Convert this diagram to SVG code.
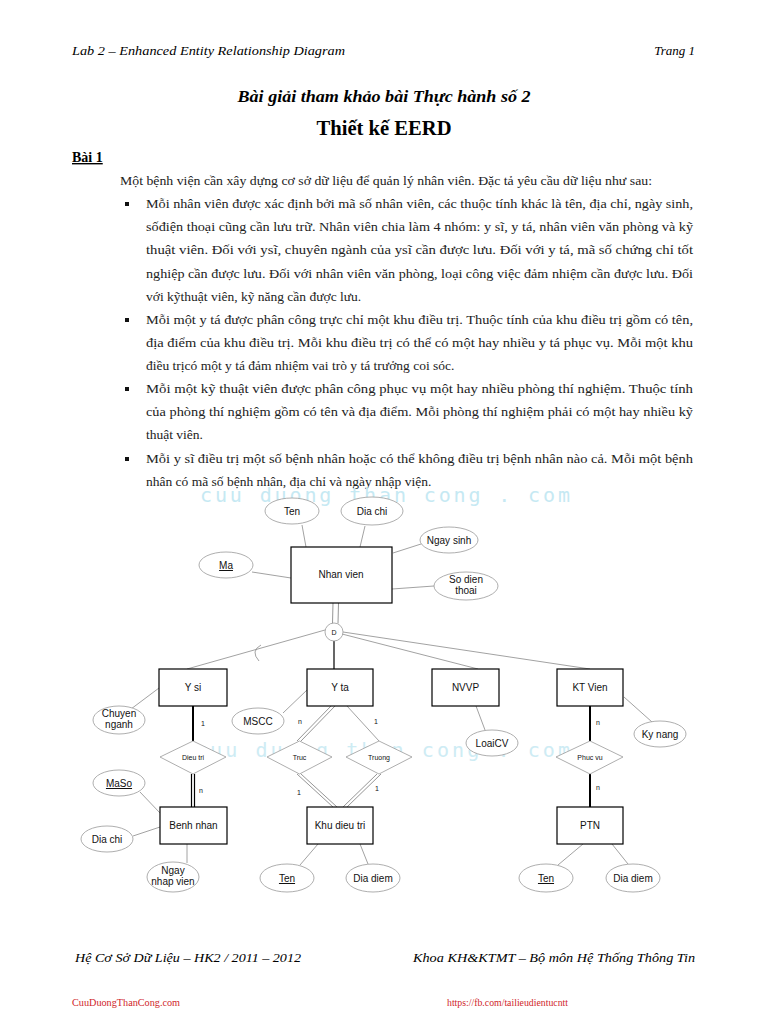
<svg xmlns="http://www.w3.org/2000/svg" width="768" height="1024" viewBox="0 0 768 1024">
<style>
.hdr{font-family:"Liberation Serif",serif;font-style:italic;font-size:13px;fill:#000}
.body{font-family:"Liberation Serif",serif;font-size:13.5px;fill:#222}
.wm{font-family:"DejaVu Sans Mono",monospace;font-size:20px;fill:#c6e9f3}
.ent{fill:#fff;stroke:#000;stroke-width:1.2}
.attr{fill:#fff;stroke:#999;stroke-width:0.8}
.rel{fill:#fff;stroke:#999;stroke-width:0.8}
.ln{stroke:#8a8a8a;stroke-width:0.8;fill:none}
.dbl{stroke:#8a8a8a;stroke-width:0.9;fill:none}
.thick{stroke:#000;stroke-width:2;fill:none}
.blk{stroke:#000;stroke-width:1.2;fill:none}
.t{font-family:"Liberation Sans",Arial,sans-serif;font-size:10px;text-anchor:middle;fill:#111}
.ts{font-family:"Liberation Sans",Arial,sans-serif;font-size:7px;text-anchor:middle;fill:#111}
.u{text-decoration:underline}
.bul{fill:#111}
</style>
<rect width="768" height="1024" fill="#fff"/>

<!-- header -->
<text class="hdr" x="72" y="55" textLength="273" lengthAdjust="spacingAndGlyphs">Lab 2 – Enhanced Entity Relationship Diagram</text>
<text class="hdr" x="695" y="55" text-anchor="end">Trang 1</text>
<text x="384" y="102" text-anchor="middle" font-family="Liberation Serif,serif" font-weight="bold" font-style="italic" font-size="16" textLength="293" lengthAdjust="spacingAndGlyphs">Bài giải tham khảo bài Thực hành số 2</text>
<text x="384" y="135" text-anchor="middle" font-family="Liberation Serif,serif" font-weight="bold" font-size="20" textLength="135" lengthAdjust="spacingAndGlyphs">Thiết kế EERD</text>
<text x="72" y="162" font-family="Liberation Serif,serif" font-weight="bold" font-size="14" text-decoration="underline">Bài 1</text>

<!-- body text -->
<g class="body">
<text x="120" y="185" textLength="532" lengthAdjust="spacingAndGlyphs">Một bệnh viện cần xây dựng cơ sở dữ liệu để quản lý nhân viên. Đặc tả yêu cầu dữ liệu như sau:</text>
<rect class="bul" x="125" y="202" width="4" height="4"/>
<text x="146" y="208" textLength="547" lengthAdjust="spacingAndGlyphs">Mỗi nhân viên được xác định bởi mã số nhân viên, các thuộc tính khác là tên, địa chỉ, ngày sinh,</text>
<text x="146" y="231" textLength="547" lengthAdjust="spacingAndGlyphs">sốđiện thoại cũng cần lưu trữ. Nhân viên chia làm 4 nhóm: y sĩ, y tá, nhân viên văn phòng và kỹ</text>
<text x="146" y="254" textLength="547" lengthAdjust="spacingAndGlyphs">thuật viên. Đối với ysĩ, chuyên ngành của ysĩ cần được lưu. Đối với y tá, mã số chứng chỉ tốt</text>
<text x="146" y="278" textLength="547" lengthAdjust="spacingAndGlyphs">nghiệp cần được lưu. Đối với nhân viên văn phòng, loại công việc đảm nhiệm cần được lưu. Đối</text>
<text x="146" y="301">với kỹthuật viên, kỹ năng cần được lưu.</text>
<rect class="bul" x="125" y="318" width="4" height="4"/>
<text x="146" y="324" textLength="547" lengthAdjust="spacingAndGlyphs">Mỗi một y tá được phân công trực chỉ một khu điều trị. Thuộc tính của khu điều trị gồm có tên,</text>
<text x="146" y="347" textLength="547" lengthAdjust="spacingAndGlyphs">địa điểm của khu điều trị. Mỗi khu điều trị có thể có một hay nhiều y tá phục vụ. Mỗi một khu</text>
<text x="146" y="370">điều trịcó một y tá đảm nhiệm vai trò y tá trưởng coi sóc.</text>
<rect class="bul" x="125" y="387" width="4" height="4"/>
<text x="146" y="393" textLength="547" lengthAdjust="spacingAndGlyphs">Mỗi một kỹ thuật viên được phân công phục vụ một hay nhiều phòng thí nghiệm. Thuộc tính</text>
<text x="146" y="416" textLength="547" lengthAdjust="spacingAndGlyphs">của phòng thí nghiệm gồm có tên và địa điểm. Mỗi phòng thí nghiệm phải có một hay nhiều kỹ</text>
<text x="146" y="439">thuật viên.</text>
<rect class="bul" x="125" y="457" width="4" height="4"/>
<text x="146" y="463" textLength="547" lengthAdjust="spacingAndGlyphs">Mỗi y sĩ điều trị một số bệnh nhân hoặc có thể không điều trị bệnh nhân nào cả. Mỗi một bệnh</text>
<text x="146" y="486">nhân có mã số bệnh nhân, địa chỉ và ngày nhập viện.</text>
</g>

<!-- watermarks (behind diagram) -->
<text class="wm" x="200" y="502" textLength="370" lengthAdjust="spacing">cuu duong than cong . com</text>
<text class="wm" x="195" y="757" textLength="375" lengthAdjust="spacing" opacity="0.85">cuu duong than cong . com</text>

<!-- connectors -->
<g id="connectors">
<line class="ln" x1="302" y1="525" x2="306" y2="547"/>
<line class="ln" x1="365" y1="526" x2="360" y2="547"/>
<line class="ln" x1="393" y1="553" x2="421" y2="544"/>
<line class="ln" x1="252" y1="572" x2="291" y2="578"/>
<line class="ln" x1="392" y1="589" x2="434" y2="586"/>
<line class="dbl" x1="333" y1="603" x2="332.5" y2="623.5"/>
<line class="dbl" x1="338.5" y1="603" x2="338" y2="623.5"/>
<line class="ln" x1="325" y1="630" x2="187" y2="669"/>
<path class="ln" d="M261,645 Q250,651 259,661"/>
<line class="blk" x1="334" y1="641" x2="334" y2="669"/>
<line class="ln" x1="342" y1="634" x2="478" y2="669"/>
<line class="ln" x1="343" y1="632" x2="590" y2="669"/>
<line class="ln" x1="159" y1="688" x2="131" y2="709"/>
<line class="ln" x1="307" y1="690" x2="283" y2="713"/>
<line class="ln" x1="476" y1="706" x2="485" y2="730"/>
<line class="ln" x1="624" y1="697" x2="652" y2="722"/>
<line class="thick" x1="193" y1="706" x2="193" y2="741"/>
<line class="blk" x1="191.5" y1="774" x2="191.5" y2="807"/>
<line class="blk" x1="194.5" y1="774" x2="194.5" y2="807"/>
<line class="dbl" x1="331" y1="706" x2="297" y2="741"/>
<line class="dbl" x1="335" y1="706" x2="301" y2="741"/>
<line class="ln" x1="347" y1="706" x2="379" y2="741"/>
<line class="dbl" x1="297" y1="774" x2="333" y2="807"/>
<line class="dbl" x1="301" y1="774" x2="337" y2="807"/>
<line class="dbl" x1="377" y1="774" x2="343" y2="807"/>
<line class="dbl" x1="381" y1="774" x2="347" y2="807"/>
<line class="thick" x1="590" y1="706" x2="590" y2="741"/>
<line class="thick" x1="590" y1="774" x2="590" y2="807"/>
<line class="ln" x1="140" y1="792" x2="160" y2="813"/>
<line class="ln" x1="133" y1="836" x2="160" y2="827"/>
<line class="ln" x1="187" y1="844" x2="187" y2="863"/>
<line class="ln" x1="318" y1="844" x2="300" y2="865"/>
<line class="ln" x1="360" y1="844" x2="368" y2="864"/>
<line class="ln" x1="583" y1="844" x2="558" y2="865"/>
<line class="ln" x1="612" y1="844" x2="628" y2="864"/>
<text class="ts" x="203" y="726">1</text>
<text class="ts" x="201" y="793">n</text>
<text class="ts" x="300" y="724">n</text>
<text class="ts" x="376" y="724">1</text>
<text class="ts" x="299" y="795">1</text>
<text class="ts" x="377" y="791">1</text>
<text class="ts" x="598" y="725">n</text>
<text class="ts" x="598" y="790">n</text>
</g>

<!-- Nhan vien and its attributes -->
<g id="nhanvien"><rect class="ent" x="291" y="547" width="101" height="56"/><text class="t" x="341" y="578">Nhan vien</text></g>
<g id="nv-ten"><ellipse class="attr" cx="292" cy="511" rx="27" ry="13"/><text class="t" x="292" y="515">Ten</text></g>
<g id="nv-diachi"><ellipse class="attr" cx="372" cy="511" rx="31" ry="14"/><text class="t" x="372" y="515">Dia chi</text></g>
<g id="nv-ngaysinh"><ellipse class="attr" cx="449" cy="540" rx="29" ry="13"/><text class="t" x="449" y="544">Ngay sinh</text></g>
<g id="nv-ma"><ellipse class="attr" cx="226" cy="565" rx="27" ry="13"/><text class="t u" x="226" y="569">Ma</text></g>
<g id="nv-sdt"><ellipse class="attr" cx="466" cy="586" rx="32" ry="14"/><text class="t" x="466" y="583">So dien</text><text class="t" x="466" y="594">thoai</text></g>

<!-- disjoint circle -->
<g id="d"><circle class="rel" cx="334" cy="632" r="9"/><text class="ts" x="334" y="634.5">D</text></g>

<!-- subclasses -->
<g id="ysi"><rect class="ent" x="159" y="669" width="68" height="37"/><text class="t" x="193" y="691">Y si</text></g>
<g id="yta"><rect class="ent" x="307" y="669" width="66" height="37"/><text class="t" x="340" y="691">Y ta</text></g>
<g id="nvvp"><rect class="ent" x="432" y="669" width="67" height="37"/><text class="t" x="465.5" y="691">NVVP</text></g>
<g id="ktvien"><rect class="ent" x="557" y="669" width="66" height="37"/><text class="t" x="590" y="691">KT Vien</text></g>

<g id="chuyennganh"><ellipse class="attr" cx="119" cy="720" rx="26" ry="14"/><text class="t" x="119" y="717">Chuyen</text><text class="t" x="119" y="728">nganh</text></g>
<g id="mscc"><ellipse class="attr" cx="258" cy="721" rx="26" ry="13"/><text class="t" x="258" y="725">MSCC</text></g>
<g id="loaicv"><ellipse class="attr" cx="492" cy="743" rx="26" ry="13"/><text class="t" x="492" y="747">LoaiCV</text></g>
<g id="kynang"><ellipse class="attr" cx="660" cy="734" rx="26" ry="13"/><text class="t" x="660" y="738">Ky nang</text></g>

<!-- relationships -->
<g id="dieutri"><polygon class="rel" points="160,757 193,741 226,757 193,774"/><text class="ts" x="193" y="760">Dieu tri</text></g>
<g id="truc"><polygon class="rel" points="267,757 299.5,741 332,757 299.5,774"/><text class="ts" x="299.5" y="760">Truc</text></g>
<g id="truong"><polygon class="rel" points="346,757 379,741 412,757 379,774"/><text class="ts" x="379" y="760">Truong</text></g>
<g id="phucvu"><polygon class="rel" points="556,757 590,741 623,757 590,774"/><text class="ts" x="590" y="760">Phuc vu</text></g>

<!-- lower entities -->
<g id="benhnhan"><rect class="ent" x="160" y="807" width="67" height="37"/><text class="t" x="193.5" y="829">Benh nhan</text></g>
<g id="khudieutri"><rect class="ent" x="307" y="807" width="66" height="37"/><text class="t" x="340" y="829">Khu dieu tri</text></g>
<g id="ptn"><rect class="ent" x="557" y="807" width="66" height="37"/><text class="t" x="590" y="829">PTN</text></g>

<g id="bn-maso"><ellipse class="attr" cx="119" cy="783" rx="26" ry="13"/><text class="t u" x="119" y="787">MaSo</text></g>
<g id="bn-diachi"><ellipse class="attr" cx="107" cy="839" rx="26" ry="13"/><text class="t" x="107" y="843">Dia chi</text></g>
<g id="bn-ngaynhapvien"><ellipse class="attr" cx="173" cy="877" rx="26" ry="15"/><text class="t" x="173" y="874">Ngay</text><text class="t" x="173" y="885">nhap vien</text></g>
<g id="kdt-ten"><ellipse class="attr" cx="287" cy="878" rx="27" ry="14"/><text class="t u" x="287" y="882">Ten</text></g>
<g id="kdt-diadiem"><ellipse class="attr" cx="373" cy="878" rx="27" ry="14"/><text class="t" x="373" y="882">Dia diem</text></g>
<g id="ptn-ten"><ellipse class="attr" cx="546" cy="878" rx="27" ry="14"/><text class="t u" x="546" y="882">Ten</text></g>
<g id="ptn-diadiem"><ellipse class="attr" cx="633" cy="878" rx="27" ry="14"/><text class="t" x="633" y="882">Dia diem</text></g>

<!-- footer -->
<text class="hdr" x="75" y="962" textLength="226" lengthAdjust="spacingAndGlyphs">Hệ Cơ Sở Dữ Liệu – HK2 / 2011 – 2012</text>
<text class="hdr" x="695" y="962" text-anchor="end" textLength="282" lengthAdjust="spacingAndGlyphs">Khoa KH&amp;KTMT – Bộ môn Hệ Thống Thông Tin</text>
<text x="72" y="1006" font-family="Liberation Serif,serif" font-size="10" fill="#d0262b" textLength="108" lengthAdjust="spacingAndGlyphs">CuuDuongThanCong.com</text>
<text x="447" y="1006" font-family="Liberation Serif,serif" font-size="10" fill="#d0262b" textLength="121" lengthAdjust="spacingAndGlyphs">https://fb.com/tailieudientucntt</text>
</svg>
